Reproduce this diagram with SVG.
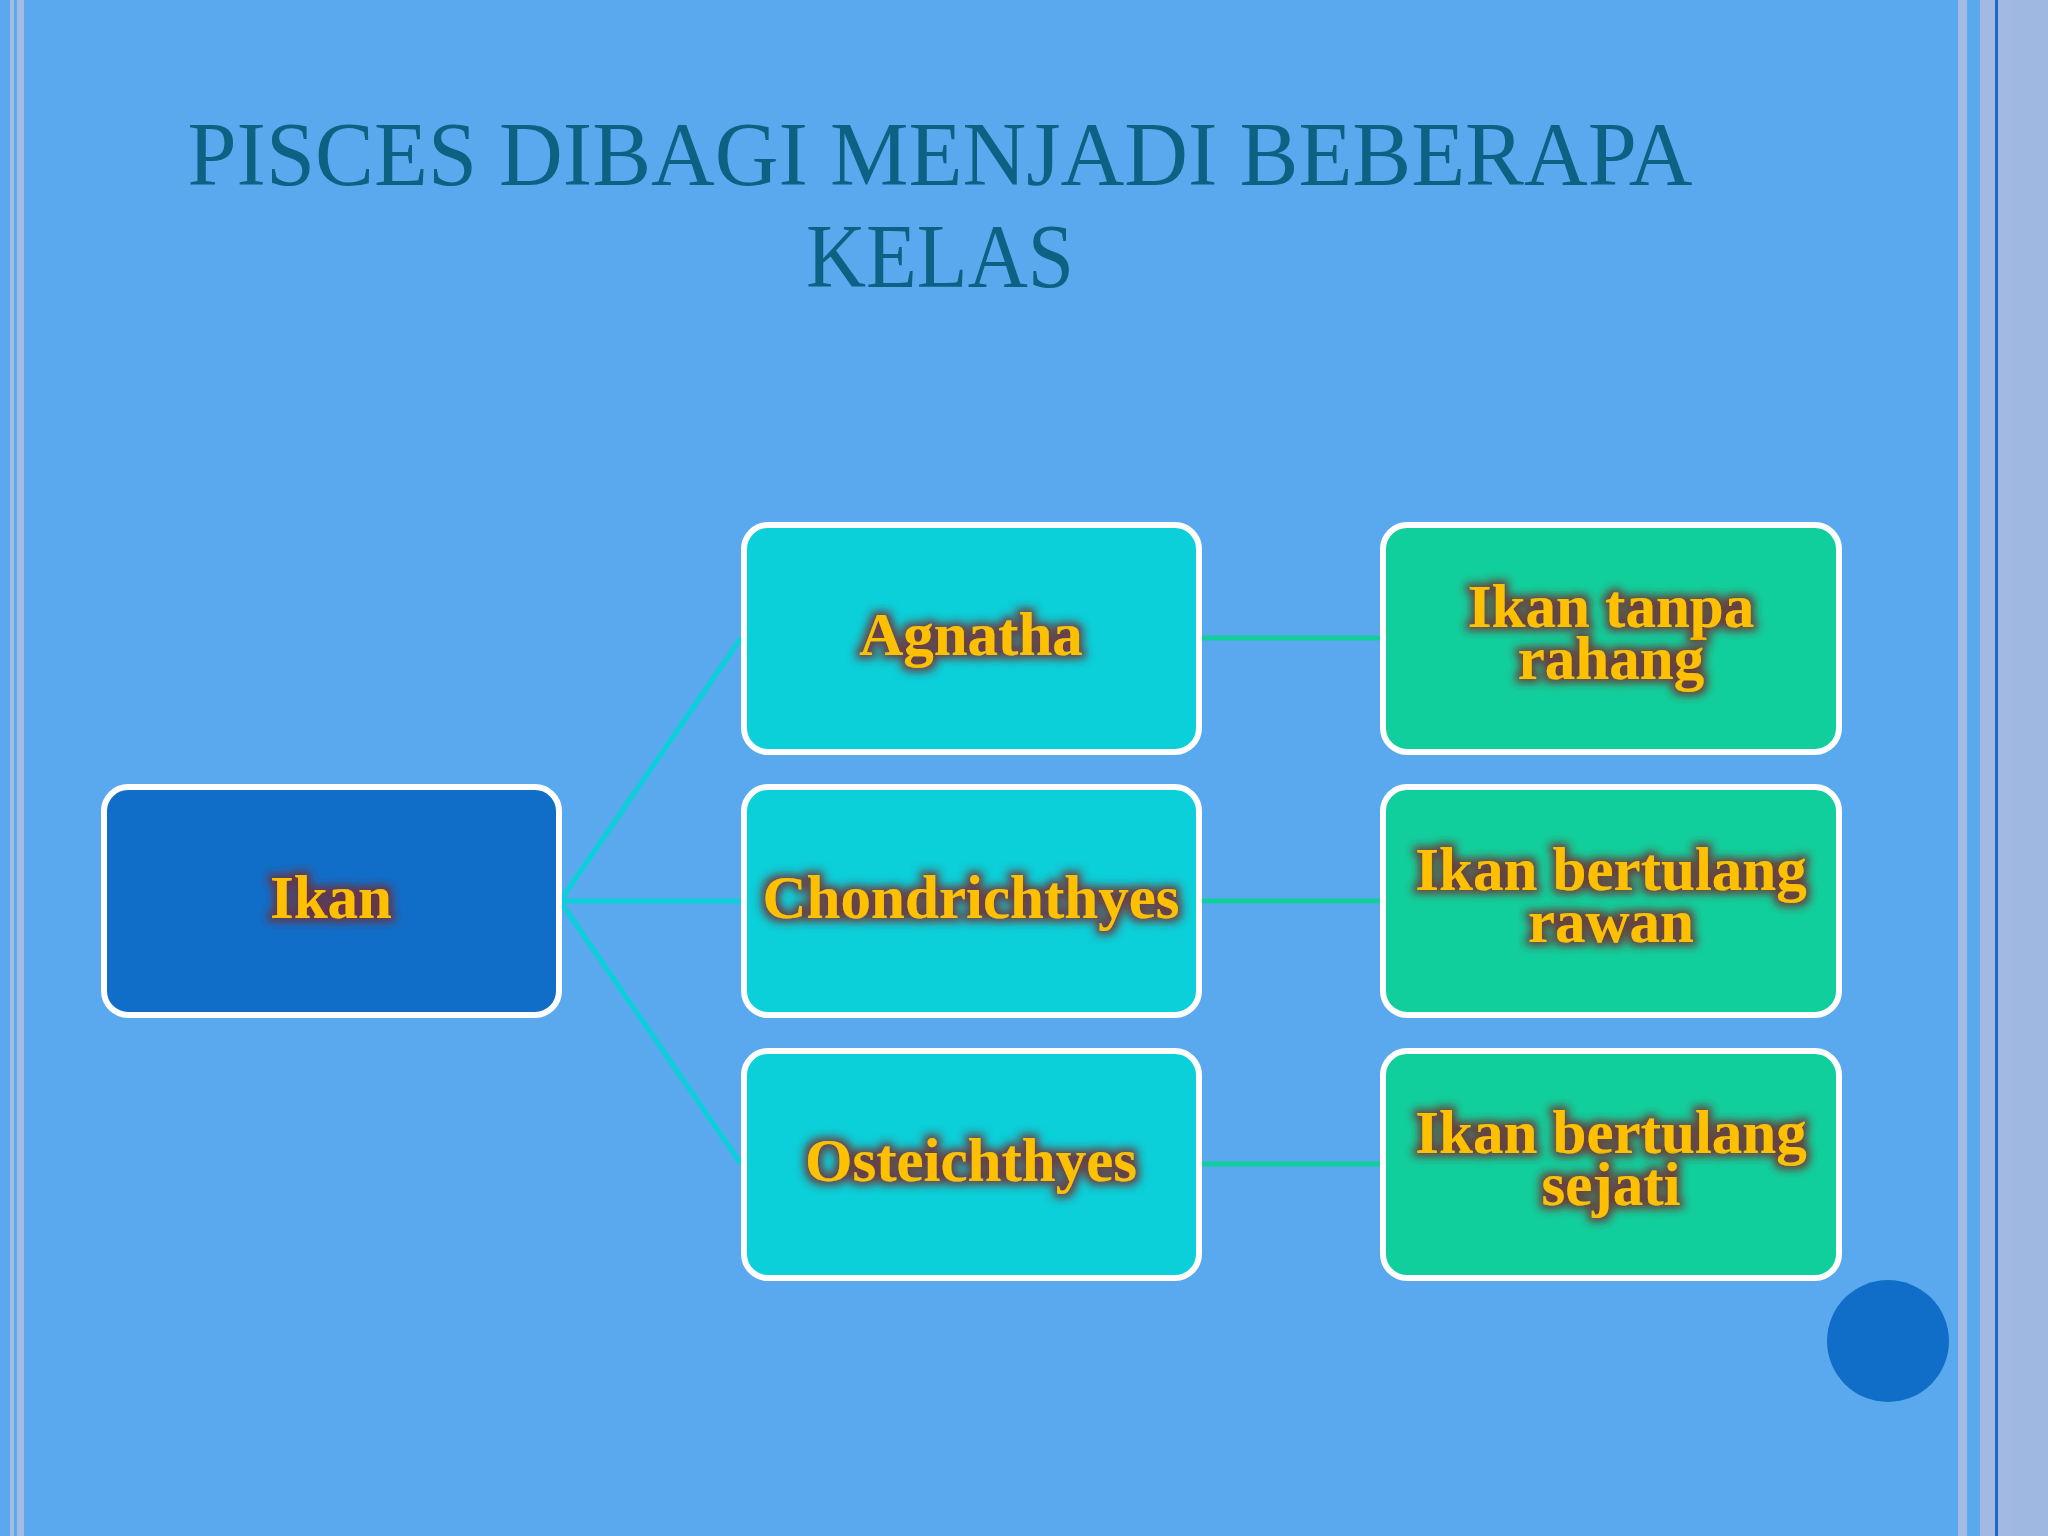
<svg xmlns="http://www.w3.org/2000/svg" width="2048" height="1536" viewBox="0 0 2048 1536">
<defs>
<style>
.title{font-family:"Liberation Serif","Times New Roman",serif;font-size:90px;fill:#0d6183;text-anchor:middle}
.lbl{font-family:"Liberation Serif","Times New Roman",serif;font-weight:bold;font-size:61px;fill:#ffc000;text-anchor:middle;filter:url(#glow)}
.box{stroke:#ffffff;stroke-width:6}
.root{fill:#116ec8}
.mid{fill:#0bcfd9}
.leaf{fill:#11cf9c}
.c1{stroke:#0bcfd9;stroke-width:5;fill:none}
.c2{stroke:#11cf9c;stroke-width:5;fill:none}
</style>
<filter id="glow" x="-20%" y="-40%" width="140%" height="180%">
<feMorphology in="SourceAlpha" operator="dilate" radius="4" result="d"/>
<feGaussianBlur in="d" stdDeviation="4" result="b"/>
<feFlood flood-color="#762a2e" flood-opacity="0.85"/>
<feComposite in2="b" operator="in" result="g"/>
<feMerge><feMergeNode in="g"/><feMergeNode in="SourceGraphic"/></feMerge>
</filter>
</defs>
<rect x="0" y="0" width="2048" height="1536" fill="#5aa9ee"/>
<g id="border">
<rect x="10" y="0" width="4" height="1536" fill="#a4bce4"/>
<rect x="17" y="0" width="7" height="1536" fill="#a4bce4"/>
<rect x="1958" y="0" width="9" height="1536" fill="#a4bce4"/>
<rect x="1980" y="0" width="68" height="1536" fill="#a2bae3"/>
<rect x="1995" y="0" width="3" height="1536" fill="#1a6ac8"/>
<rect x="2012" y="0" width="36" height="1536" fill="#9fb8e2"/>
</g>
<g id="title">
<text class="title" x="940" y="185" textLength="1505" lengthAdjust="spacingAndGlyphs">PISCES DIBAGI MENJADI BEBERAPA</text>
<text class="title" x="940" y="287" textLength="268" lengthAdjust="spacingAndGlyphs">KELAS</text>
</g>
<g id="connectors">
<line class="c1" x1="560" y1="901" x2="741" y2="638"/>
<line class="c1" x1="560" y1="901" x2="741" y2="901"/>
<line class="c1" x1="560" y1="901" x2="741" y2="1164"/>
<line class="c2" x1="1202" y1="638" x2="1380" y2="638"/>
<line class="c2" x1="1202" y1="901" x2="1380" y2="901"/>
<line class="c2" x1="1202" y1="1164" x2="1380" y2="1164"/>
</g>
<g id="node-ikan">
<rect class="box root" x="104" y="787" width="455" height="228" rx="24"/>
<text class="lbl" x="331" y="918">Ikan</text>
</g>
<g id="node-agnatha">
<rect class="box mid" x="744" y="525" width="455" height="227" rx="24"/>
<text class="lbl" x="971" y="655">Agnatha</text>
</g>
<g id="node-chondrichthyes">
<rect class="box mid" x="744" y="787" width="455" height="228" rx="24"/>
<text class="lbl" x="971" y="918">Chondrichthyes</text>
</g>
<g id="node-osteichthyes">
<rect class="box mid" x="744" y="1051" width="455" height="227" rx="24"/>
<text class="lbl" x="971" y="1181">Osteichthyes</text>
</g>
<g id="node-tanpa-rahang">
<rect class="box leaf" x="1383" y="525" width="456" height="227" rx="24"/>
<text class="lbl" x="1611" y="627">Ikan tanpa</text>
<text class="lbl" x="1611" y="679">rahang</text>
</g>
<g id="node-rawan">
<rect class="box leaf" x="1383" y="787" width="456" height="228" rx="24"/>
<text class="lbl" x="1611" y="890">Ikan bertulang</text>
<text class="lbl" x="1611" y="942">rawan</text>
</g>
<g id="node-sejati">
<rect class="box leaf" x="1383" y="1051" width="456" height="227" rx="24"/>
<text class="lbl" x="1611" y="1153">Ikan bertulang</text>
<text class="lbl" x="1611" y="1205">sejati</text>
</g>
<circle id="dot" cx="1888" cy="1341" r="61" fill="#116ec8"/>
</svg>
